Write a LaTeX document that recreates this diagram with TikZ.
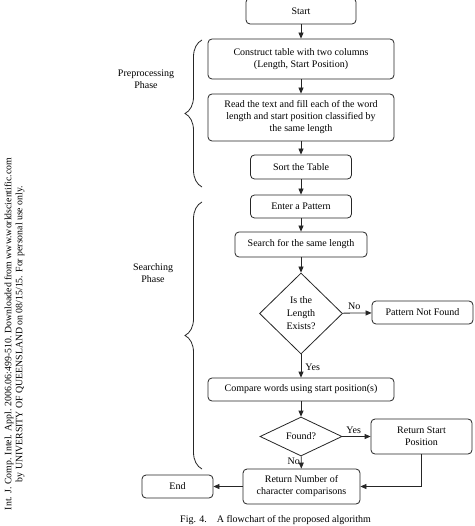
\documentclass[tikz,border=0pt]{standalone}
\usepackage{fontspec}
\setmainfont{Liberation Serif}
\usetikzlibrary{arrows.meta,shapes.geometric,decorations.pathreplacing}
\begin{document}
\begin{tikzpicture}[x=1pt,y=-1pt,
  every node/.style={font=\fontsize{10}{12}\selectfont, inner sep=0pt},
  box/.style={draw=black!85, line width=0.8pt, rounded corners=4pt, align=center},
  dec/.style={draw=black!85, line width=0.8pt, shape=diamond, align=center, inner sep=0pt},
  arr/.style={draw=black!85, line width=0.8pt, -{Triangle[length=6pt,width=5pt]}},
  lbl/.style={font=\fontsize{10}{12}\selectfont},
  brc/.style={draw=black!85, line width=0.8pt, decorate, decoration={brace, amplitude=17pt}}
]
\useasboundingbox (0,0) rectangle (474,526);
\clip (0,0) rectangle (474,526);
\fill[white] (0,0) rectangle (474,526);

% boxes
\node[box, minimum width=110pt, minimum height=26pt] (start) at (301,11) {Start};
\node[box, minimum width=186pt, minimum height=40pt] (cons) at (301,59) {Construct table with two columns\\(Length, Start Position)};
\node[box, minimum width=186pt, minimum height=47pt] (read) at (301,117.5) {Read the text and fill each of the word\\length and start position classified by\\the same length};
\node[box, minimum width=101pt, minimum height=24pt] (sort) at (301,167) {Sort the Table};
\node[box, minimum width=101pt, minimum height=23pt] (enter) at (301,206.5) {Enter a Pattern};
\node[box, minimum width=132pt, minimum height=25pt] (search) at (301,244.5) {Search for the same length};
\node[dec, minimum width=83pt, minimum height=81pt, font=\fontsize{10}{13}\selectfont] (len) at (301,313.5) {Is the\\Length\\Exists?};
\node[box, minimum width=101pt, minimum height=23pt] (pnf) at (422.5,312.5) {Pattern Not Found};
\node[box, minimum width=186pt, minimum height=23pt] (comp) at (301,389.5) {Compare words using start position(s)};
\node[dec, minimum width=82pt, minimum height=39pt] (found) at (301,436.5) {Found?};
\node[box, minimum width=101pt, minimum height=35pt] (rs) at (421.5,436.5) {Return Start\\Position};
\node[box, minimum width=117pt, minimum height=35pt] (rn) at (301.5,486.5) {Return Number of\\character comparisons};
\node[box, minimum width=71pt, minimum height=23pt] (end) at (177.5,486.5) {End};

% connectors
\draw[arr] (start) -- (cons);
\draw[arr] (cons) -- (read);
\draw[arr] (read) -- (sort);
\draw[arr] (sort) -- (enter);
\draw[arr] (enter) -- (search);
\draw[arr] (search) -- (len);
\draw[arr] (len) -- node[lbl, above=3pt, pos=0.4] {No} (pnf);
\draw[arr] (len) -- node[lbl, right=4pt, pos=0.55] {Yes} (comp);
\draw[arr] (comp) -- (found);
\draw[arr] (found) -- node[lbl, above=3pt, pos=0.4] {Yes} (rs);
\draw[arr] (found) -- node[lbl, left=1pt, pos=0.4] {No} (rn);
\draw[arr] (rs.south) |- (rn.east);
\draw[arr] (rn) -- (end);

% braces
\coordinate (b1a) at (202,187);
\coordinate (b1b) at (202,40);
\draw[brc] (b1a) -- (b1b);
\coordinate (b2a) at (202,469);
\coordinate (b2b) at (202,202);
\draw[brc] (b2a) -- (b2b);
\node[align=center] (pre) at (146,79) {Preprocessing\\Phase};
\node[align=center] (srch) at (153,273) {Searching\\Phase};

% watermark
\node[rotate=90, align=center, font=\fontsize{9.8}{11}\selectfont] (wm) at (14.5,334) {Int. J. Comp. Intel. Appl. 2006.06:499-510. Downloaded from www.worldscientific.com\\by UNIVERSITY OF QUEENSLAND on 08/15/15. For personal use only.};

% caption
\node[anchor=base west] (cap) at (180,522.5) {Fig. 4.\quad A flowchart of the proposed algorithm};
\end{tikzpicture}
\end{document}
